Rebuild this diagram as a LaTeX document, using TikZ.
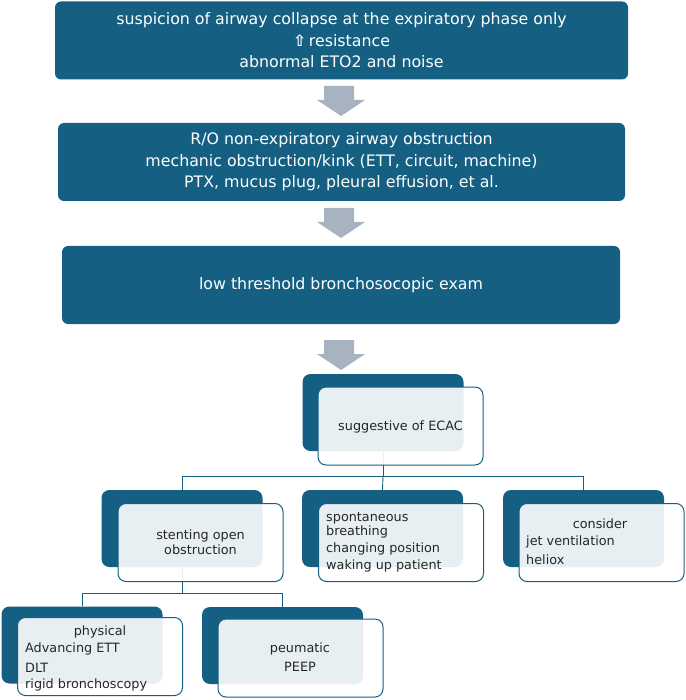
\documentclass[tikz,border=0pt]{standalone}
\usepackage{fontspec}
\setmainfont{DejaVu Sans}
\newfontfamily\symfont{DejaVu Sans}
\definecolor{darkblue}{HTML}{156082}
\definecolor{arrowgray}{HTML}{A7B3C1}
\definecolor{txt}{HTML}{262626}
\begin{document}
\begin{tikzpicture}[x=1pt,y=-1pt,
  topbox/.style={fill=darkblue, rounded corners=6pt, text=white, align=center, inner sep=0pt,
     font=\fontsize{15.8}{21.5}\selectfont},
  darkbox/.style={fill=darkblue, rounded corners=8pt, minimum width=161pt, minimum height=77pt, inner sep=0pt},
  lightbox/.style={draw=darkblue, line width=1pt, fill=white, fill opacity=0.9, rounded corners=8pt,
     minimum width=165pt, minimum height=78pt, inner sep=0pt},
  lvtext/.style={text=txt, inner sep=0pt, font=\fontsize{12.8}{14.5}\selectfont},
  conn/.style={draw=darkblue, line width=0.9pt},
  bigarrow/.style={fill=arrowgray}
]
\useasboundingbox (0,0) rectangle (685,700);

% top boxes
\node[topbox, minimum width=573pt, minimum height=78pt] (b1) at (341.5,40.5)
  {suspicion of airway collapse at the expiratory phase only\\{\symfont\bfseries ⇧}\,resistance\\abnormal ETO2 and noise};
\node[topbox, minimum width=567pt, minimum height=78pt] (b2) at (341.5,162)
  {R/O non-expiratory airway obstruction\\mechanic obstruction/kink (ETT, circuit, machine)\\PTX, mucus plug, pleural effusion, et al.};
\node[topbox, minimum width=558pt, minimum height=78pt] (b3) at (341,285)
  {low threshold bronchosocopic exam};

% block arrows
\fill[bigarrow] (324,86) -- (354,86) -- (354,100) -- (365,100) -- (341,116) -- (317,100) -- (324,100) -- cycle;
\fill[bigarrow] (324,208) -- (354,208) -- (354,222) -- (365,222) -- (341,238) -- (317,222) -- (324,222) -- cycle;
\fill[bigarrow] (324,340) -- (354,340) -- (354,354) -- (365,354) -- (341,370) -- (317,354) -- (324,354) -- cycle;

% dark boxes (positions)
\node[darkbox] (ecacD) at (383,412.5) {};
\node[darkbox] (stentD) at (182,528.5) {};
\node[darkbox] (spontD) at (382.5,528.5) {};
\node[darkbox] (consD) at (583.5,528.5) {};
\node[darkbox] (physD) at (82,645) {};
\node[darkbox] (pneuD) at (282.5,645.5) {};

% connectors (behind light boxes)
\coordinate (j1) at (383,476);
\coordinate (j2) at (182,593);
\draw[conn] (ecacD.south) -- (j1);
\draw[conn] (stentD.north |- j1) -- (consD.north |- j1);
\draw[conn] (stentD.north |- j1) -- (stentD.north);
\draw[conn] (j1) -- (spontD.north);
\draw[conn] (consD.north |- j1) -- (consD.north);
\draw[conn] (stentD.south) -- (j2);
\draw[conn] (physD.north |- j2) -- (pneuD.north |- j2);
\draw[conn] (physD.north |- j2) -- (physD.north);
\draw[conn] (pneuD.north |- j2) -- (pneuD.north);

% light boxes
\node[lightbox] (ecac) at (400.5,426) {};
\node[lightbox] (stent) at (200.5,542.5) {};
\node[lightbox] (spont) at (401,542.5) {};
\node[lightbox] (cons) at (601.5,542.5) {};
\node[lightbox] (phys) at (100,656.5) {};
\node[lightbox] (pneu) at (300.5,658) {};

% texts
\node[lvtext] (t1) at (400.5,426.5) {suggestive of ECAC};
\node[lvtext, align=center] (t2) at (200.5,542) {stenting open\\obstruction};
\node[lvtext, anchor=west] (t3a) at (326,518) {spontaneous};
\node[lvtext, anchor=west] (t3b) at (326,532) {breathing};
\node[lvtext, anchor=west] (t3c) at (326,549) {changing position};
\node[lvtext, anchor=west] (t3d) at (326,566) {waking up patient};
\node[lvtext] (t4a) at (600,524) {consider};
\node[lvtext, anchor=west] (t4b) at (526,542) {jet ventilation};
\node[lvtext, anchor=west] (t4c) at (526,560) {heliox};
\node[lvtext] (t5a) at (100,632) {physical};
\node[lvtext, anchor=west] (t5b) at (25,649) {Advancing ETT};
\node[lvtext, anchor=west] (t5c) at (25,668) {DLT};
\node[lvtext, anchor=west] (t5d) at (25,685) {rigid bronchoscopy};
\node[lvtext] (t6a) at (300,649) {peumatic};
\node[lvtext] (t6b) at (300,667) {PEEP};
\end{tikzpicture}
\end{document}
